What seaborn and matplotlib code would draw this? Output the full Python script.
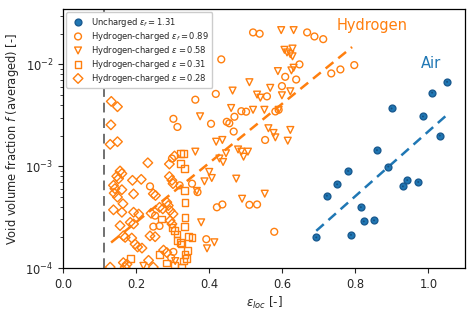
import numpy as np
import pandas as pd
import matplotlib
matplotlib.use("Agg")
import matplotlib.pyplot as plt
import seaborn as sns

# ---------------- data ----------------
air_x = [1.051, 1.010, 0.899, 0.985, 1.031, 0.859, 0.780, 0.890, 0.750, 0.722,
         0.942, 0.930, 0.972, 0.815, 0.823, 0.851, 0.788, 0.693]
air_y = [0.00674, 0.00528, 0.00369, 0.00308, 0.00200, 0.00144, 0.000898, 0.000993,
         0.000664, 0.000513, 0.000731, 0.000634, 0.000700, 0.000396, 0.000287,
         0.000294, 0.000212, 0.000200]

c89_x = [0.520, 0.538, 0.668, 0.688, 0.712, 0.433, 0.647, 0.734, 0.759, 0.797,
         0.608, 0.638, 0.389, 0.599, 0.418, 0.558, 0.362, 0.488, 0.501, 0.581,
         0.590, 0.302, 0.469, 0.313, 0.405, 0.448, 0.455, 0.467, 0.553, 0.298,
         0.319, 0.353, 0.368, 0.238, 0.510, 0.531, 0.421, 0.436, 0.252, 0.247,
         0.264, 0.392, 0.302, 0.296, 0.578]
c89_y = [0.0206, 0.0200, 0.0206, 0.0188, 0.0177, 0.0112, 0.0100, 0.00815, 0.00892, 0.00984,
         0.00755, 0.00710, 0.00659, 0.00612, 0.00513, 0.00485, 0.00450, 0.00347, 0.00343, 0.00345,
         0.00358, 0.00292, 0.00306, 0.00243, 0.00261, 0.00273, 0.00264, 0.00219, 0.00181, 0.00119,
         0.000649, 0.000674, 0.000557, 0.000634, 0.000418, 0.000421, 0.000395, 0.000421, 0.000327, 0.000255,
         0.000259, 0.000192, 0.000144, 0.000126, 0.000227]

t58_x = [0.597, 0.631, 0.606, 0.613, 0.628, 0.622, 0.628, 0.588, 0.625, 0.631,
         0.510, 0.464, 0.567, 0.599, 0.622, 0.531, 0.540, 0.460, 0.520, 0.551,
         0.590, 0.375, 0.562, 0.576, 0.581, 0.622, 0.615, 0.419, 0.436, 0.479,
         0.488, 0.506, 0.494, 0.362, 0.428, 0.446, 0.438, 0.400, 0.407, 0.474,
         0.366, 0.387, 0.490, 0.552, 0.378, 0.394, 0.414, 0.220, 0.307]
t58_y = [0.0217, 0.0217, 0.0139, 0.0131, 0.0143, 0.0126, 0.0120, 0.00859, 0.00873, 0.00927,
         0.00668, 0.00553, 0.00588, 0.00497, 0.00544, 0.00505, 0.00471, 0.00373, 0.00358, 0.00358,
         0.00358, 0.00309, 0.00236, 0.00212, 0.00192, 0.00227, 0.00178, 0.00174, 0.00181, 0.00146,
         0.00139, 0.00139, 0.00124, 0.00139, 0.00119, 0.00134, 0.00110, 0.000879, 0.000766, 0.000755,
         0.000572, 0.000710, 0.000479, 0.000537, 0.000281, 0.000156, 0.000179, 0.000105, 0.000117]

s31_x = [0.321, 0.330, 0.321, 0.332, 0.332, 0.334, 0.270, 0.334, 0.332, 0.298,
         0.304, 0.312, 0.312, 0.321, 0.325, 0.343, 0.353, 0.341, 0.334, 0.337,
         0.264, 0.185, 0.284, 0.304, 0.330, 0.325]
s31_y = [0.00134, 0.00134, 0.00106, 0.000955, 0.000578, 0.000443, 0.000303, 0.000315, 0.000255, 0.000251,
         0.000232, 0.000216, 0.000185, 0.000178, 0.000172, 0.000203, 0.000200, 0.000150, 0.000137, 0.000124,
         0.000135, 0.000125, 0.000112, 0.000107, 0.000117, 0.000102]

d28_x = [0.132, 0.149, 0.131, 0.129, 0.149, 0.305, 0.232, 0.291, 0.156, 0.161,
         0.147, 0.152, 0.190, 0.214, 0.291, 0.298, 0.301, 0.138, 0.142, 0.140,
         0.149, 0.161, 0.193, 0.247, 0.253, 0.164, 0.138, 0.161, 0.193, 0.207,
         0.241, 0.264, 0.273, 0.284, 0.288, 0.293, 0.301, 0.293, 0.298, 0.156,
         0.184, 0.193, 0.165, 0.170, 0.188, 0.238, 0.252, 0.197, 0.204, 0.216,
         0.275, 0.284, 0.234, 0.165, 0.175, 0.170, 0.129, 0.247]
d28_y = [0.00433, 0.00384, 0.00255, 0.00164, 0.00174, 0.00126, 0.00108, 0.00105, 0.000898, 0.000847,
         0.000796, 0.000755, 0.000727, 0.000743, 0.000791, 0.000727, 0.000674, 0.000649, 0.000602, 0.000544,
         0.000497, 0.000588, 0.000534, 0.000536, 0.000516, 0.000428, 0.000373, 0.000353, 0.000353, 0.000339,
         0.000345, 0.000395, 0.000381, 0.000443, 0.000411, 0.000367, 0.000340, 0.000292, 0.000271, 0.000261,
         0.000281, 0.000271, 0.000207, 0.000200, 0.000197, 0.000207, 0.000203, 0.000172, 0.000161, 0.000157,
         0.000150, 0.000142, 0.000119, 0.000113, 0.000109, 0.000102, 0.000102, 0.000102]

# trend lines (end points)
h2_trend_x = [0.1315, 0.791]
h2_trend_y = [1.78e-4, 0.0148]
air_trend_x = [0.693, 1.051]
air_trend_y = [2.32e-4, 0.00320]
eps_threshold = 0.112

labels = ["Uncharged $\\varepsilon_f = 1.31$",
          "Hydrogen-charged $\\varepsilon_f = 0.89$",
          "Hydrogen-charged $\\varepsilon = 0.58$",
          "Hydrogen-charged $\\varepsilon = 0.31$",
          "Hydrogen-charged $\\varepsilon = 0.28$"]

# ---------------- plot ----------------
sns.set_style("ticks")
plt.rcParams['font.family'] = ['DejaVu Sans']
plt.rcParams['mathtext.fontset'] = 'dejavusans'

BLUE = "#1f77b4"
ORANGE = "#ff7f0e"

fig = plt.figure(figsize=(4.74, 3.21), dpi=100)
ax = fig.add_axes([0.133, 0.165, 0.848, 0.807])

ax.axvline(eps_threshold, color="#707070", ls=(0, (5, 3)), lw=1.4, zorder=1)

sns.scatterplot(x=air_x, y=air_y, ax=ax, marker="o", s=24, color=BLUE,
                edgecolor="#1a5a90", linewidth=1.0, label=labels[0], zorder=3)
sns.scatterplot(x=air_x, y=air_y, ax=ax, marker="o", s=2, color="#174f80",
                edgecolor="none", zorder=4)

open_kw = dict(ax=ax, s=24, facecolor="none", edgecolor=ORANGE, linewidth=1.0, zorder=3)
sns.scatterplot(x=c89_x, y=c89_y, marker="o", label=labels[1], **open_kw)
sns.scatterplot(x=t58_x, y=t58_y, marker="v", label=labels[2], **open_kw)
sns.scatterplot(x=s31_x, y=s31_y, marker="s", label=labels[3], **open_kw)
sns.scatterplot(x=d28_x, y=d28_y, marker="D", label=labels[4], **open_kw)

sns.lineplot(x=h2_trend_x, y=h2_trend_y, ax=ax, color=ORANGE, lw=1.8,
             linestyle=(0, (4, 2.5)), zorder=2)
sns.lineplot(x=air_trend_x, y=air_trend_y, ax=ax, color=BLUE, lw=1.8,
             linestyle=(0, (4, 2.5)), zorder=2)

ax.text(0.846, 0.0239, "Hydrogen", color=ORANGE, fontsize=10.5, ha="center", va="center")
ax.text(1.008, 0.0102, "Air", color=BLUE, fontsize=10.5, ha="center", va="center")

ax.set_yscale("log")
ax.set_xlim(0, 1.1)
ax.set_ylim(1e-4, 0.035)
ax.set_xticks([0.0, 0.2, 0.4, 0.6, 0.8, 1.0])
ax.set_xticklabels(["0.0", "0.2", "0.4", "0.6", "0.8", "1.0"])
ax.tick_params(labelsize=8.3, length=3.5, width=0.8)
ax.tick_params(which="minor", length=2, width=0.6)
for sp in ax.spines.values():
    sp.set_linewidth(0.9)
    sp.set_color("black")

ax.set_xlabel("$\\varepsilon_{loc}$ [-]", fontsize=8.5, labelpad=3)
ax.set_ylabel("Void volume fraction $f$ (averaged) [-]", fontsize=8.3, labelpad=3)

leg = ax.legend(loc="upper left", fontsize=6, framealpha=1, borderpad=0.4,
                handletextpad=0.6, labelspacing=0.12, borderaxespad=0.4)
leg.get_frame().set_edgecolor("#cccccc")

fig.savefig("out.png", dpi=100)
